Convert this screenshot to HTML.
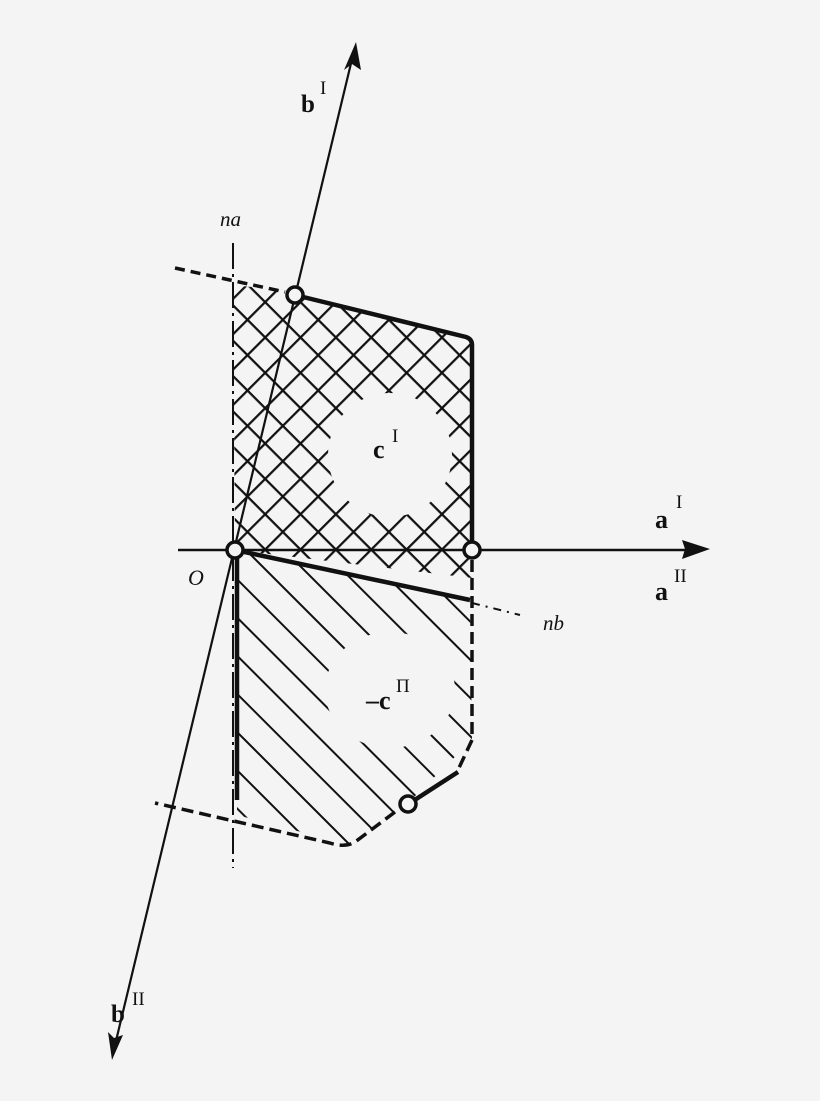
<!DOCTYPE html>
<html><head><meta charset="utf-8"><style>
html,body{margin:0;padding:0;background:#f4f4f4;}
svg{display:block}
text{font-family:"Liberation Serif",serif;fill:#111}
</style></head><body>
<svg width="820" height="1101" viewBox="0 0 820 1101" xmlns="http://www.w3.org/2000/svg">
<defs>
<pattern id="cross" patternUnits="userSpaceOnUse" width="25" height="25" patternTransform="rotate(45)">
<line x1="0" y1="0" x2="25" y2="0" stroke="#111" stroke-width="4.5"/>
<line x1="0" y1="0" x2="0" y2="25" stroke="#111" stroke-width="4.5"/>
</pattern>
<pattern id="diag" patternUnits="userSpaceOnUse" width="27" height="27" patternTransform="rotate(-45)">
<line x1="0" y1="0" x2="0" y2="27" stroke="#111" stroke-width="4"/>
</pattern>
<clipPath id="c1"><polygon points="233,285 280,290 295,295 468,338 472,350 472,578 235,550"/></clipPath>
<clipPath id="c2"><polygon points="237,552 470,600 472,740 408,803 350,845 237,815"/></clipPath>
</defs>
<rect width="820" height="1101" fill="#f4f4f4"/>
<rect x="200" y="260" width="300" height="330" fill="url(#cross)" clip-path="url(#c1)"/>
<rect x="200" y="540" width="300" height="320" fill="url(#diag)" clip-path="url(#c2)"/>
<ellipse cx="390" cy="455" rx="62" ry="62" fill="#f4f4f4"/>
<ellipse cx="390" cy="690" rx="65" ry="58" fill="#f4f4f4"/>
<line x1="178" y1="550" x2="695" y2="550" stroke="#111" stroke-width="2.5"/>
<polygon points="710,549 682,540 685,549 682,559" fill="#111"/>
<line x1="353" y1="55" x2="115" y2="1045" stroke="#111" stroke-width="2.2"/>
<polygon points="356,42 344,70 352,64 361,70" fill="#111"/>
<polygon points="112,1060 108,1032 114,1038 123,1035" fill="#111"/>
<line x1="233" y1="243" x2="233" y2="868" stroke="#111" stroke-width="2" stroke-dasharray="26,5,3,5"/>
<line x1="175" y1="268" x2="285" y2="292" stroke="#111" stroke-width="3.5" stroke-dasharray="10,6"/>
<path d="M295,295 L466,337 Q472,339 472,345 L472,550" fill="none" stroke="#111" stroke-width="4.5"/>
<line x1="235" y1="550" x2="470" y2="600" stroke="#111" stroke-width="4.5"/>
<line x1="237" y1="555" x2="237" y2="800" stroke="#111" stroke-width="4.5"/>
<line x1="458" y1="772" x2="410" y2="803" stroke="#111" stroke-width="4.5"/>
<line x1="472" y1="603" x2="520" y2="615" stroke="#111" stroke-width="2" stroke-dasharray="8,6,2,6"/>
<path d="M472,560 L472,740 L458,770" fill="none" stroke="#111" stroke-width="3.5" stroke-dasharray="12,6"/>
<path d="M395,812 L355,842 Q345,848 330,843 L155,803" fill="none" stroke="#111" stroke-width="3.5" stroke-dasharray="12,6"/>
<circle cx="295" cy="295" r="8" fill="#f4f4f4" stroke="#111" stroke-width="3.5"/>
<circle cx="235" cy="550" r="8" fill="#f4f4f4" stroke="#111" stroke-width="3.5"/>
<circle cx="472" cy="550" r="8" fill="#f4f4f4" stroke="#111" stroke-width="3.5"/>
<circle cx="408" cy="804" r="8" fill="#f4f4f4" stroke="#111" stroke-width="3.5"/>
<text x="301" y="112" font-size="25" font-weight="bold" font-family="Liberation Sans, sans-serif">b</text>
<text x="320" y="94" font-size="19">I</text>
<text x="220" y="226" font-size="21" font-style="italic">na</text>
<text x="373" y="458" font-size="26" font-weight="bold">c</text>
<text x="392" y="442" font-size="19">I</text>
<text x="655" y="528" font-size="26" font-weight="bold">a</text>
<text x="676" y="508" font-size="19">I</text>
<text x="655" y="600" font-size="26" font-weight="bold">a</text>
<text x="674" y="582" font-size="19">II</text>
<text x="188" y="585" font-size="22" font-style="italic">O</text>
<text x="543" y="630" font-size="21" font-style="italic">nb</text>
<text x="366" y="709" font-size="26" font-weight="bold">–c</text>
<text x="396" y="692" font-size="19">П</text>
<text x="111" y="1022" font-size="25" font-weight="bold" font-family="Liberation Sans, sans-serif">b</text>
<text x="132" y="1005" font-size="19">II</text>
</svg>
</body></html>
